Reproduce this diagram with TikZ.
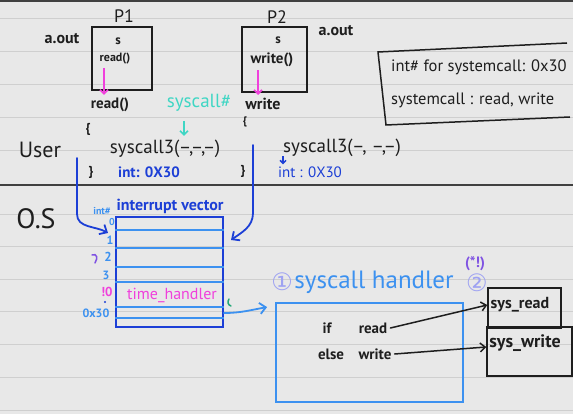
\documentclass[tikz,border=0pt]{standalone}
\usepackage{fontspec}
\setmainfont{PT Sans}
\newfontfamily\circfont{DejaVu Sans}
\usepackage{tikz}
\usetikzlibrary{arrows.meta}
\usetikzlibrary{calc}
\usetikzlibrary{positioning}
\definecolor{paper}{HTML}{E8E8E8}
\definecolor{ruling}{HTML}{CFCFCF}
\definecolor{ink}{HTML}{1E1E1E}
\definecolor{dblue}{HTML}{1C3FD6}
\definecolor{lblue}{HTML}{3C91F0}
\definecolor{hpink}{HTML}{F040DC}
\definecolor{hteal}{HTML}{3FD6C4}
\definecolor{hlav}{HTML}{9EA2F2}
\definecolor{hpurp}{HTML}{7F52E2}
\definecolor{hgreen}{HTML}{22A877}
\newcommand{\fsz}[1]{\fontsize{#1}{#1}\selectfont}

\begin{document}
\begin{tikzpicture}[x=1pt, y=-1pt]
				\tikzstyle{hand}=[inner sep=0pt, text=ink]
				\tikzstyle{procbox}=[draw=ink, line width=1.5pt, fill=none, inner sep=0pt]
				\tikzstyle{darr}=[-{Straight Barb[length=6pt,width=11pt]}, dblue, line width=1.8pt, line cap=round]
				\tikzstyle{larr}=[-{Straight Barb[length=6pt,width=11pt]}, lblue, line width=1.8pt, line cap=round]
				\tikzstyle{karr}=[-{Straight Barb[length=5pt,width=9pt]}, ink, line width=1.5pt, line cap=round]
				\tikzstyle{parr}=[-{Straight Barb[length=4pt,width=8pt]}, hpink, line width=1.6pt]
				\tikzstyle{tarr}=[-{Straight Barb[length=4pt,width=8pt]}, hteal, line width=1.6pt]
				
				% notebook page
				\useasboundingbox (0,0) rectangle (573,414);
				\fill[paper] (0,0) rectangle (573,414);
				\foreach \yy in {18,51,84,117,150,214,246,279,311,344,377,410}
					\draw[ruling, line width=0.8pt] (0,\yy) -- (573,\yy);
				\draw[ink!85, line width=2pt] (0,1) -- (573,1);
				\draw[ink!85, line width=2pt] (0,185) -- (573,185);
				
				% user side, P1
				\node (p1l) at (124,16) [hand, font=\fsz{18}] {P1};
				\node (p1) at (122,58.5) [procbox, minimum width=60pt, minimum height=63pt] {};
				\node (p1s) at (118,41) [hand, font=\fsz{13}\bfseries] {s};
				\node (p1r) at (115,59) [hand, font=\fsz{12}\bfseries] {read()};
				\node (ao1) at (62,39) [hand, font=\fsz{16}\bfseries] {a.out};
				\node (c1) at (110,105) [hand, font=\fsz{15}\bfseries] {read()};
				\draw[parr] ([xshift=-11pt,yshift=-3pt]p1r.south) -- ([xshift=-6pt,yshift=3pt]c1.north);
				\node (sn) at (199,103) [hand, text=hteal, font=\fsz{19}] {syscall\#};
				\node (b1) at (88,129) [hand, font=\fsz{13}\bfseries] {\{};
				\node (usr) at (40,150) [hand, font=\fsz{22}] {User};
				\node (sc1) at (165,149) [hand, font=\fsz{19}] {syscall3(–,–,–)};
				\draw[tarr] ([xshift=-15pt,yshift=-9pt]sn.south) -- ([xshift=19pt,yshift=4pt]sc1.north);
				\node (b2) at (91,172) [hand, font=\fsz{13}\bfseries] {\}};
				\node (in1) at (149,172) [hand, text=dblue, font=\fsz{15}\bfseries] {int: 0X30};
				
				% user side, P2
				\node (p2l) at (277,17) [hand, font=\fsz{18}] {P2};
				\node (p2) at (274.5,59.5) [procbox, minimum width=65pt, minimum height=65pt] {};
				\node (p2s) at (278,40) [hand, font=\fsz{13}\bfseries] {s};
				\node (p2w) at (272,60) [hand, font=\fsz{15}\bfseries] {write()};
				\node (ao2) at (336,31) [hand, font=\fsz{16}\bfseries] {a.out};
				\node (c2) at (263,104) [hand, font=\fsz{16}\bfseries] {write};
				\draw[parr] ([xshift=-14pt,yshift=-3pt]p2w.south) -- ([xshift=-5pt,yshift=3pt]c2.north);
				\node (b3) at (245,122) [hand, font=\fsz{11}\bfseries] {\{};
				\node (sc2) at (342,148) [hand, font=\fsz{19}] {syscall3(–, –,–)};
				\node (b4) at (243,171) [hand, font=\fsz{13}\bfseries] {\}};
				\node (in2) at (310,172) [hand, text=dblue, font=\fsz{15}] {int : 0X30};
				\draw[-{Straight Barb[length=3pt,width=6pt]}, dblue, line width=1.5pt] ([xshift=-59pt,yshift=1pt]sc2.south) -- ([xshift=-27pt,yshift=2pt]in2.north);
				
				% note
				\draw[ink, line width=1.5pt] (567,43) -- (378,52) -- (386,125) -- (570,117);
				\node (nt1) at (391,67) [hand, anchor=west, font=\fsz{16.5}] {int\# for systemcall: 0x30};
				\node (nt2) at (391,100) [hand, anchor=west, font=\fsz{16.5}] {systemcall : read, write};
				
				% O.S side
				\node (os) at (36,219) [hand, font=\fsz{28}] {O.S};
				\node (ivl) at (170,206) [hand, text=dblue, font=\fsz{16}\bfseries] {interrupt vector};
				\node (inl) at (102,211) [hand, text=lblue, font=\fsz{10}\bfseries] {int\#};
				\node (vec) at (169.5,272) [draw=dblue, line width=1.8pt, minimum width=107pt, minimum height=110pt, inner sep=0pt] {};
				\foreach \yy in {230,248,267,282,307,318}
					\draw[lblue, line width=1.6pt] (vec.west |- 0,\yy) -- (vec.east |- 0,\yy);
				\node (r0) at (112,222) [hand, text=lblue, font=\fsz{10}\bfseries] {0};
				\node (r1) at (110,240) [hand, text=lblue, font=\fsz{12}\bfseries] {1};
				\node (r2) at (108,257) [hand, text=lblue, font=\fsz{13}\bfseries] {2};
				\node (r3) at (106,275) [hand, text=lblue, font=\fsz{12}\bfseries] {3};
				\node (r50) at (107,292) [hand, text=hpink, font=\fsz{13}\bfseries] {!0};
				\node (r30) at (96,313) [hand, text=lblue, font=\fsz{12}\bfseries] {0x30};
				\fill[dblue] (105,302) circle (1.1pt);
				\draw[hpurp, line width=1.5pt, line cap=round] (92,255) .. controls (97,253) and (98,258) .. (95,263);
				\node (tmh) at (172,295) [hand, text=hpink, font=\fsz{16}] {time\_handler};
				\draw[hgreen, line width=1.5pt, line cap=round] (229,299) .. controls (227,302) and (228,305) .. (231,306);
				
				\coordinate (uL) at (77,158);
				\coordinate (vL) at (108,233);
				\draw[darr] (uL) -- ++(0,56) to[out=-90,in=150] (vL);
				\coordinate (uR) at (253,145);
				\coordinate (vR) at (231,240);
				\draw[darr] (uR) -- ++(0,68) to[out=-90,in=35] (vR);
				
				% syscall handler
				\node (hb) at (369.5,352.5) [draw=lblue, line width=1.8pt, minimum width=187pt, minimum height=99pt] {};
				\node (ht) at (374,282) [hand, text=lblue, font=\fsz{25}] {syscall handler};
				\node (n1) [left=1pt of ht, hand, text=hlav, font=\circfont\fsz{24}] {①};
				\node (ast) at (475,264) [hand, text=hpurp, font=\fsz{15}\bfseries] {(*!)};
				\node (n2) at (477,283) [hand, text=hlav, font=\circfont\fsz{24}] {②};
				\draw[larr] (vec.east |- 0,313) to[out=0,in=190] ([xshift=-8pt,yshift=-5pt]hb.north west);
				\node (kif) at (327,328) [hand, font=\fsz{15}\bfseries] {if};
				\node (krd) at (373,328) [hand, font=\fsz{15}\bfseries] {read};
				\node (kel) at (331,354) [hand, font=\fsz{15}\bfseries] {else};
				\node (kwr) at (375,354) [hand, font=\fsz{15}\bfseries] {write};
				\node (sr) at (524.5,308) [procbox, minimum width=73pt, minimum height=40pt] {};
				\node (srt) at (520,305) [hand, font=\fsz{16}\bfseries] {sys\_read};
				\node (sw) at (529.5,351.5) [procbox, minimum width=85pt, minimum height=49pt] {};
				\node (swt) at (525,343) [hand, font=\fsz{18}\bfseries] {sys\_write};
				\draw[karr] ([xshift=3pt]krd.east) -- ([yshift=3pt]sr.west);
				\draw[karr] ([xshift=3pt]kwr.east) -- ([yshift=4.5pt]sw.west);
\end{tikzpicture}
\end{document}
